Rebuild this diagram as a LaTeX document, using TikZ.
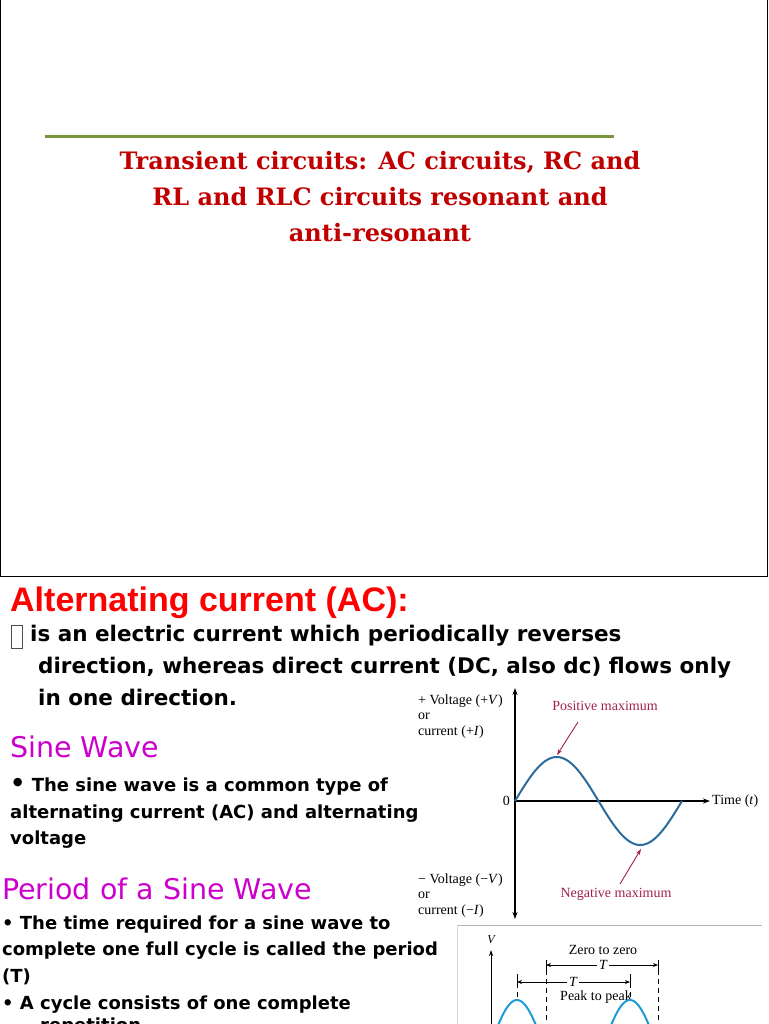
\documentclass[tikz,border=0pt]{standalone}
\usepackage{fontspec}
\setmainfont{DejaVu Sans}
\newfontfamily\acfont{Liberation Sans}
\newfontfamily\titlefont{DejaVu Serif}
\newfontfamily\figfont{Liberation Serif}
\usetikzlibrary{arrows.meta}
\definecolor{titlered}{HTML}{C00000}
\definecolor{olivegreen}{HTML}{77933C}
\definecolor{mag}{HTML}{CC00CC}
\definecolor{wave}{HTML}{2B6C9E}
\definecolor{lblred}{HTML}{A0224A}
\definecolor{wave2}{HTML}{1E9BD7}
\tikzset{
  body/.style={anchor=west,inner sep=0,font=\fontsize{21.5}{24}\selectfont\bfseries},
  small/.style={anchor=west,inner sep=0,font=\fontsize{18}{21}\selectfont\bfseries},
  head/.style={anchor=west,inner sep=0,text=mag,font=\fontsize{28.5}{30}\selectfont},
  fig/.style={inner sep=0,font=\figfont\fontsize{14}{16}\selectfont},
  axis/.style={line width=1.2pt,-{Stealth[length=7pt,width=5pt]}},
}
\begin{document}
\begin{tikzpicture}[x=1pt,y=-1pt]
\useasboundingbox (0,0) rectangle (768,1024);
\clip (0,0) rectangle (768,1024);
% top slide
\draw[line width=1pt] (0.5,0) -- (0.5,576) -- (767.5,576) -- (767.5,0);
\draw[olivegreen,line width=3pt] (45,137) -- (614,137);
\node[text=titlered,align=center,inner sep=0,font=\titlefont\bfseries\fontsize{24}{36}\selectfont] (title) at (380,197)
  {Transient circuits: AC circuits, RC and\\RL and RLC circuits resonant and\\anti-resonant};
% bottom slide
\node[anchor=west,inner sep=0,text=red,font=\acfont\fontsize{34}{36}\selectfont\bfseries] (ac) at (10,603) {Alternating current (AC):};
\draw[line width=0.8pt,gray!60!black] (11,625) rectangle (22,648);
\node[body] (l1) at (30,636) {is an electric current which periodically reverses};
\node[body] (l2) at (38,668) {direction, whereas direct current (DC, also dc) flows only};
\node[body] (l3) at (38,697) {in one direction.};
\node[head] (sw) at (10,747) {Sine Wave};
\node[small] (b1) at (10,787) {{\fontsize{24}{24}\selectfont•} The sine wave is a common type of};
\node[small] (b2) at (10,814) {alternating current (AC) and alternating};
\node[small] (b3) at (10,840) {voltage};
\node[head] (ps) at (2,889) {Period of a Sine Wave};
\node[small] (c1) at (2,925) {• The time required for a sine wave to};
\node[small] (c2) at (2,951) {complete one full cycle is called the period};
\node[small] (c3) at (2,977) {(T)};
\node[small] (c4) at (2,1005) {• A cycle consists of one complete};
\node[small] (c5) at (40,1027) {repetition};
% sine figure 1
\coordinate (o) at (515,801);
\coordinate (ytop) at (515,688);
\coordinate (ybot) at (515,919);
\coordinate (xend) at (710,801);
\draw[axis] (o) -- (ytop);
\draw[axis] (o) -- (ybot);
\draw[axis] (o) -- (xend);
\draw[wave,line width=2pt,domain=0:167,samples=80] plot ({515+\x},{801-44*sin(\x/167*360)});
\node[fig,anchor=west] (pv) at (418,701) {+ Voltage (+\textit{V})};
\node[fig,anchor=west] (or1) at (418,716) {or};
\node[fig,anchor=west] (pc) at (418,732) {current (+\textit{I})};
\node[fig,anchor=west] (nv) at (418,880) {\textminus\ Voltage (\textminus\textit{V})};
\node[fig,anchor=west] (or2) at (418,895) {or};
\node[fig,anchor=west] (nc) at (418,911) {current (\textminus\textit{I})};
\node[fig,anchor=east] (zero) at (510,801) {0};
\node[fig,anchor=west] (time) at (712,801) {Time (\textit{t})};
\node[fig,text=lblred] (posmax) at (605,706) {Positive maximum};
\node[fig,text=lblred] (negmax) at (616,894) {Negative maximum};
\coordinate (pk) at (557,755);
\coordinate (tr) at (641,849);
\draw[lblred,line width=0.9pt,-{Stealth[length=6pt,width=4pt]}] (578,722) -- (pk);
\draw[lblred,line width=0.9pt,-{Stealth[length=6pt,width=4pt]}] (620,884) -- (tr);
% sine figure 2
\draw[gray!60,line width=1pt] (457,925) -- (762,925);
\draw[gray!30] (457,925) -- (457,1024);
\coordinate (v0) at (491,1030);
\coordinate (vtop) at (491,950);
\draw[line width=0.9pt,-{Stealth[length=6pt,width=4pt]}] (v0) -- (vtop);
\node[fig,font=\figfont\itshape\fontsize{12}{12}\selectfont] (V) at (491,940) {V};
\node[fig] (zz) at (603,950) {Zero to zero};
\node[fig] (pp) at (596,997) {Peak to peak};
\foreach \x/\a/\b in {546/961/1024,658/961/1024,517/974/1000,630/974/1000}
  \draw[dash pattern=on 5pt off 4pt,line width=0.8pt] (\x,\a) -- (\x,\b);
\draw[line width=0.8pt] (546,960) -- (546,970) (658,960) -- (658,970) (517,977) -- (517,987) (630,977) -- (630,987);
\node[fig,font=\figfont\itshape\fontsize{14}{14}\selectfont,fill=white,inner xsep=2pt] (T1) at (603,965) {T};
\node[fig,font=\figfont\itshape\fontsize{14}{14}\selectfont,fill=white,inner xsep=2pt] (T2) at (573,982) {T};
\coordinate (a1) at (546,965); \coordinate (a2) at (658,965);
\coordinate (b1) at (517,982); \coordinate (b2) at (630,982);
\draw[line width=0.8pt,-{Stealth[length=5pt,width=4pt]}] (T1) -- (a1);
\draw[line width=0.8pt,-{Stealth[length=5pt,width=4pt]}] (T1) -- (a2);
\draw[line width=0.8pt,-{Stealth[length=5pt,width=4pt]}] (T2) -- (b1);
\draw[line width=0.8pt,-{Stealth[length=5pt,width=4pt]}] (T2) -- (b2);
\draw[wave2,line width=2pt,domain=492:545,samples=40] plot (\x,{1050-50*cos((\x-517)/113*360)});
\draw[wave2,line width=2pt,domain=602:658,samples=40] plot (\x,{1050-50*cos((\x-517)/113*360)});
\end{tikzpicture}
\end{document}
